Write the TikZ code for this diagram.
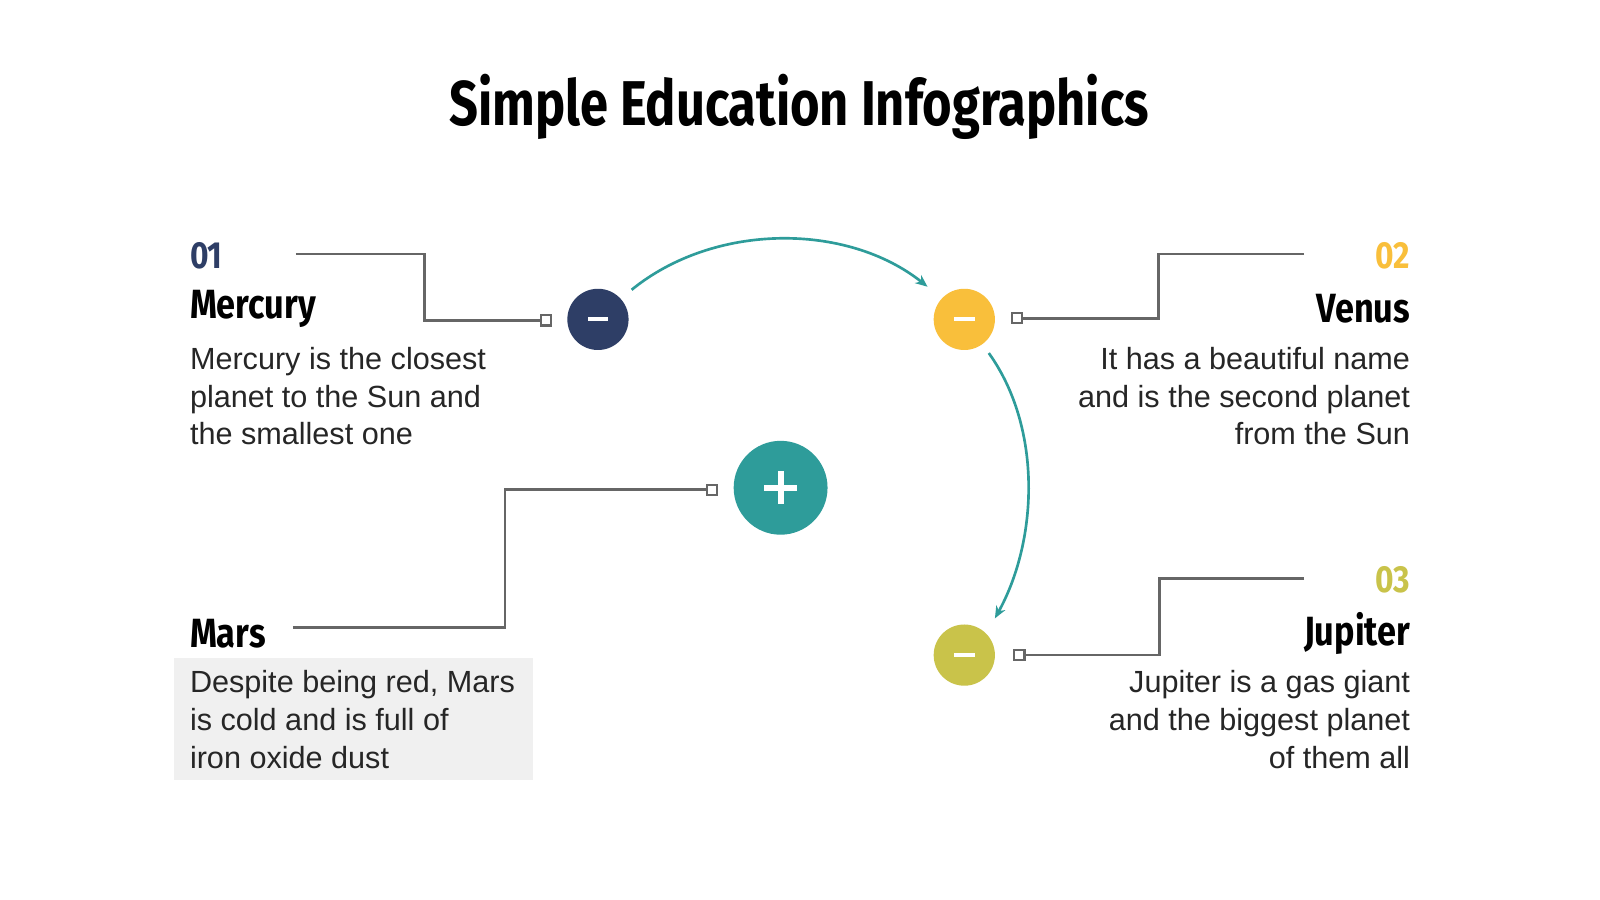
\documentclass[tikz,border=0pt]{standalone}
\usepackage{fontspec}
\setmainfont{Liberation Sans}
\newfontfamily\headf[FakeStretch=0.84]{Fira Sans Bold}
\newfontfamily\titlef[FakeStretch=0.8]{Fira Sans Bold}
\usetikzlibrary{arrows.meta}
\definecolor{navy}{HTML}{2E3E66}
\definecolor{yel}{HTML}{F9BF3B}
\definecolor{oli}{HTML}{C9C34A}
\definecolor{teal}{HTML}{2E9C9A}
\definecolor{gl}{HTML}{666666}
\definecolor{boxg}{HTML}{F0F0F0}
\begin{document}
\begin{tikzpicture}[x=1pt,y=-1pt,
 conn/.style={draw=gl,line width=2.6pt},
 sq/.style={draw=gl,fill=white,line width=2pt,minimum size=10pt,inner sep=0pt},
 body/.style={font=\fontsize{30}{37}\selectfont,inner sep=0pt,text=black!85},
 head/.style={font=\headf\fontsize{40}{40}\selectfont,inner sep=0pt},
 num/.style={font=\headf\fontsize{37}{40}\selectfont,inner sep=0pt},
 arr/.style={draw=teal,line width=2.6pt,-{Stealth[length=12pt,width=10pt,open]}}]
\useasboundingbox (0,0) rectangle (1568,882);
\fill[white] (0,0) rectangle (1568,882);
\node[font=\titlef\fontsize{62}{66}\selectfont] (title) at (783,105) {Simple Education Infographics};
% circles
\node[circle,fill=navy,minimum size=60pt,inner sep=0pt] (c1) at (586,313) {};
\node[circle,fill=yel,minimum size=60pt,inner sep=0pt] (c2) at (945,313) {};
\node[circle,fill=oli,minimum size=60pt,inner sep=0pt] (c3) at (945,642) {};
\node[circle,fill=teal,minimum size=92pt,inner sep=0pt] (c4) at (765,478) {};
\foreach \c in {c1,c2,c3} \fill[white] ([xshift=-10pt,yshift=-2pt]\c.center) rectangle ([xshift=10pt,yshift=2pt]\c.center);
\fill[white] ([xshift=-16pt,yshift=-3pt]c4.center) rectangle ([xshift=16pt,yshift=3pt]c4.center);
\fill[white] ([xshift=-3pt,yshift=-16pt]c4.center) rectangle ([xshift=3pt,yshift=16pt]c4.center);
% squares
\node[sq] (s1) at (535,314) {};
\node[sq] (s2) at (997,312) {};
\node[sq] (s3) at (999,642) {};
\node[sq] (s4) at (698,480) {};
\coordinate (e1) at (290,249); \coordinate (e2) at (1278,249);
\coordinate (e3) at (1278,567); \coordinate (e4) at (287,615);
\draw[conn] (e1) -| (416,314) -- (s1.west);
\draw[conn] (e2) -| (1135,312) -- (s2.east);
\draw[conn] (e3) -| (1136,642) -- (s3.east);
\draw[conn] (e4) -| (495,480) -- (s4.west);
% arrows
\coordinate (a1) at (619,284); \coordinate (a2) at (909,281);
\draw[arr] (a1) .. controls (700,218) and (830,218) .. (a2);
\coordinate (b1) at (969,346); \coordinate (b2) at (975,606);
\draw[arr] (b1) .. controls (1022,420) and (1017,530) .. (b2);
% texts left
\node[num,text=navy,anchor=west] (n1) at (186,251) {01};
\node[head,anchor=west] (h1) at (186,303) {Mercury};
\node[body,anchor=north west,align=left] (t1) at (186,340) {Mercury is the closest\\planet to the Sun and\\the smallest one};
\fill[boxg] (171,645) rectangle (522,764);
\node[head,anchor=west] (h4) at (186,621) {Mars};
\node[body,anchor=north west,align=left] (t4) at (186,657) {Despite being red, Mars\\is cold and is full of\\iron oxide dust};
% right
\node[num,text=yel,anchor=east] (n2) at (1382,251) {02};
\node[head,anchor=east] (h2) at (1382,303) {Venus};
\node[body,anchor=north east,align=right] (t2) at (1382,340) {It has a beautiful name\\and is the second planet\\from the Sun};
\node[num,text=oli,anchor=east] (n3) at (1382,568) {03};
\node[head,anchor=east] (h3) at (1382,621) {Jupiter};
\node[body,anchor=north east,align=right] (t3) at (1382,657) {Jupiter is a gas giant\\and the biggest planet\\of them all};
\end{tikzpicture}
\end{document}
